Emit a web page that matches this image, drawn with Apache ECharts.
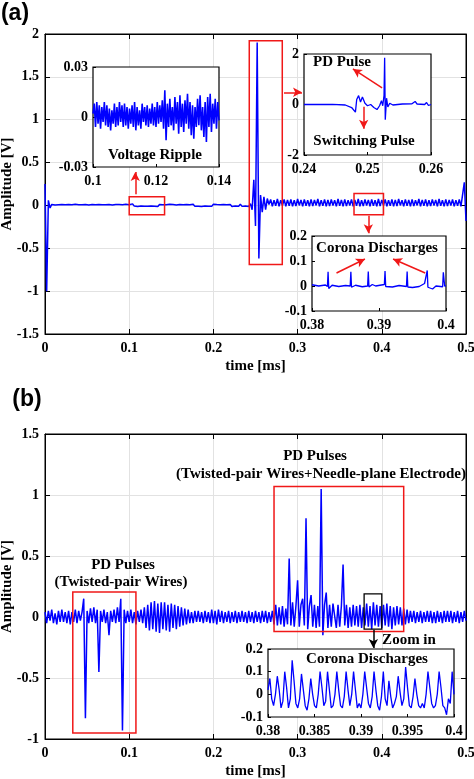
<!DOCTYPE html>
<html><head><meta charset="utf-8">
<script src="https://cdn.jsdelivr.net/npm/echarts@6/dist/echarts.min.js"></script>
<style>html,body{margin:0;padding:0;background:#fff}#c{width:474px;height:779px}</style>
</head><body><div id="c"></div>
<script>
// ---------- DATA ----------
// (a) main waveform, sampled every 0.002 ms from 0 to 0.5 ms
const aMainT0 = 0, aMainStep = 0.002;
const aMainAmp = [
0.25,-1.0,0.06,-0.03,
0.012,-0.008,0.006,-0.011,0.009,-0.006,0.011,-0.009,0.007,-0.012,
0.010,-0.007,0.008,-0.010,0.013,-0.006,0.009,-0.011,0.007,-0.008,
0.011,-0.009,0.006,-0.010,0.012,-0.007,0.008,-0.011,0.010,-0.006,
0.009,-0.012,0.007,-0.008,0.011,-0.010,0.006,-0.009,0.012,-0.007,
0.010,-0.011,0.008,-0.006,0.013,-0.009,0.007,-0.010,0.018,-0.008,
0.009,-0.012,0.011,-0.007,0.008,-0.010,0.006,-0.011,0.010,-0.008,
0.012,-0.009,0.007,-0.013,0.011,-0.006,0.009,-0.010,0.008,-0.012,
0.013,-0.007,0.010,-0.011,0.006,-0.009,0.012,-0.008,0.009,-0.013,
0.011,-0.010,0.007,-0.006,0.014,-0.011,0.008,-0.009,0.010,-0.012,
0.009,-0.007,0.012,-0.010,0.006,-0.011,0.013,-0.008,0.010,-0.009,
0.008,-0.012,0.011,-0.007,0.009,-0.010,0.012,-0.013,0.007,-0.008,
0.010,-0.009,0.015,-0.011,0.008,-0.006,0.011,-0.012,
0.02,-0.05,0.3,-0.24,1.9,-0.62,0.12,-0.08,0.1,-0.05,0.08,
0.01,0.07,-0.01,0.06,-0.005,0.075,-0.01,0.06,0.0,0.07,
-0.01,0.065,-0.005,0.07,-0.01,0.06,-0.008,0.075,0.0,0.065,
-0.01,0.07,-0.005,0.06,-0.01,0.07,-0.008,0.065,0.0,0.075,
-0.01,0.06,-0.005,0.07,-0.01,0.065,-0.008,0.07,0.0,0.06,
-0.01,0.075,-0.005,0.065,-0.01,0.07,-0.008,0.06,0.0,0.07,
-0.01,0.065,-0.005,0.075,-0.01,0.06,-0.008,0.07,0.0,0.065,
-0.01,0.07,-0.005,0.06,-0.01,0.075,-0.008,0.065,0.0,0.07,
-0.01,0.06,-0.005,0.07,-0.01,0.065,-0.008,0.075,0.0,0.06,
-0.01,0.07,-0.005,0.065,-0.01,0.07,-0.008,0.06,0.0,0.075,
-0.01,0.065,-0.005,0.07,-0.01,0.06,-0.008,0.07,0.0,0.065,
-0.01,0.075,-0.005,0.06,-0.01,0.07,-0.008,0.065,0.0,0.07,
-0.01,0.06,-0.005,0.07,-0.01,
0.0,0.27,-0.18
];
// (a) inset: voltage ripple, every 0.0004 ms from 0.1 to 0.14 ms
const rippleT0 = 0.1, rippleStep = 0.0004;
const rippleAmp = [
0.002,0.008,-0.006,0.009,-0.004,0.007,-0.007,0.006,-0.003,0.009,
-0.005,0.007,-0.006,0.005,-0.008,0.004,-0.004,0.008,-0.006,0.006,
-0.005,0.009,-0.003,0.007,-0.006,0.008,-0.005,0.006,-0.007,0.005,
-0.004,0.007,-0.006,0.009,-0.008,0.006,-0.005,0.004,-0.007,0.008,
-0.003,0.006,-0.005,0.007,-0.006,0.005,-0.004,0.008,-0.005,0.006,
-0.006,0.009,-0.004,0.007,-0.003,0.010,-0.007,0.016,-0.014,0.008,
-0.006,0.011,-0.005,0.006,-0.008,0.012,-0.004,0.009,-0.010,0.013,
-0.006,0.008,-0.009,0.010,-0.004,0.014,-0.007,0.009,-0.011,0.007,
-0.013,0.006,-0.006,0.011,-0.005,0.013,-0.008,0.006,-0.012,0.009,
-0.015,0.012,-0.006,0.014,-0.009,0.008,-0.004,0.011,-0.007,0.009,
-0.002
];
// (a) inset: PD pulse / switching pulse
const pdTime = [0.24,0.2445,0.2465,0.2475,0.2481,0.2483,0.2486,0.2489,0.2492,0.2496,0.25,0.2505,0.251,0.2515,0.2519,0.2522,0.2524,0.2526,0.2527,0.2528,0.253,0.2532,0.2535,0.254,0.2555,0.257,0.2575,0.2578,0.259,0.2593,0.2596,0.26];
const pdAmp  = [0,0.005,-0.02,-0.12,-0.3,0.2,0.35,0.1,0.3,0.05,-0.05,0.0,-0.12,-0.2,-0.05,0.15,-0.05,0.35,1.85,-0.6,0.25,-0.1,0.05,-0.02,0.02,0.03,0.12,0.02,0.0,0.08,-0.04,0];
// (a) inset: corona discharges
const coronaATime = [0.38,0.381,0.382,0.3823,0.3824,0.3825,0.383,0.384,0.385,0.3857,0.3858,0.3859,0.3865,0.3875,0.3883,0.3884,0.3885,0.389,0.3895,0.3908,0.3909,0.391,0.392,0.393,0.3941,0.3942,0.3943,0.395,0.396,0.3968,0.3972,0.3973,0.398,0.3985,0.3995,0.3996,0.3998,0.4];
const coronaAAmp  = [0.005,0.0,0.004,-0.002,0.057,-0.01,0.003,-0.002,0.002,0.0,0.057,-0.005,0.003,-0.003,0.0,0.058,-0.004,0.006,0.0,0.006,0.06,-0.002,-0.004,0.002,-0.002,0.058,-0.004,-0.006,-0.002,0.01,0.062,-0.005,-0.012,0.0,-0.003,0.055,0.0,0.0];
// (b) main waveform, every 0.002 ms from 0 to 0.5 ms
const bMainT0 = 0, bMainStep = 0.002;
const bMainAmp = [
0.04,-0.05,0.05,-0.03,0.06,-0.05,0.03,-0.06,0.05,-0.04,
0.06,-0.04,0.04,-0.05,0.05,-0.06,0.04,-0.04,0.06,-0.05,
0.05,-0.03,0.04,0.15,-0.83,0.05,-0.05,0.07,-0.04,0.08,
-0.05,0.06,-0.45,0.05,-0.04,0.06,-0.05,0.04,-0.15,0.05,
-0.04,0.06,-0.05,0.08,-0.04,0.15,-0.93,0.06,-0.05,0.05,
-0.04,0.06,-0.05,0.04,-0.06,0.05,-0.04,0.06,-0.05,0.08,
-0.09,0.1,-0.11,0.12,-0.1,0.13,-0.12,0.11,-0.13,0.12,
-0.1,0.12,-0.11,0.1,-0.12,0.11,-0.09,0.1,-0.1,0.09,
-0.08,0.08,-0.07,0.07,-0.06,0.06,-0.05,0.04,-0.05,0.05,
-0.04,0.05,-0.04,0.04,-0.05,0.05,-0.04,0.04,-0.05,0.06,
-0.05,0.05,-0.06,0.06,-0.04,0.05,-0.05,0.04,-0.04,0.05,
-0.05,0.04,-0.04,0.05,-0.05,0.04,-0.04,0.05,-0.04,0.04,
-0.05,0.05,-0.04,0.04,-0.05,0.05,-0.04,0.04,-0.05,0.05,
-0.04,0.05,-0.05,0.04,-0.04,0.05,-0.06,0.1,-0.07,0.08,
-0.06,0.09,-0.08,0.07,-0.06,0.48,-0.07,0.12,-0.08,0.09,
0.3,-0.08,0.1,0.15,-0.07,0.81,-0.1,0.09,0.18,-0.08,
0.1,-0.09,0.09,-0.08,1.05,-0.15,0.1,0.2,-0.09,0.1,
-0.08,0.11,0.12,-0.09,0.1,-0.08,0.09,0.43,-0.07,0.1,
-0.09,0.08,-0.08,0.1,-0.07,0.09,-0.08,0.1,-0.09,0.08,
-0.07,0.11,-0.08,0.09,-0.1,0.12,-0.07,0.1,-0.08,0.09,
-0.09,0.1,-0.07,0.11,-0.08,0.09,-0.1,0.08,-0.07,0.09,
-0.06,0.08,-0.07,0.07,-0.06,0.06,-0.05,0.05,-0.04,0.05,
-0.05,0.04,-0.04,0.05,-0.05,0.04,-0.04,0.05,-0.04,0.05,
-0.05,0.04,-0.05,0.05,-0.04,0.04,-0.05,0.05,-0.04,0.05,
-0.04,0.05,-0.05,0.04,-0.04,0.05,-0.05,0.04,-0.04,0.05,
-0.03
];
// (b) inset: corona discharges, every 0.0002 ms from 0.38 to 0.4 ms
const coronaBT0 = 0.38, coronaBStep = 0.0002;
const coronaBAmp = [
0.02,0.07,-0.02,-0.05,0.0,0.08,0.02,-0.06,-0.03,0.1,
0.03,-0.06,-0.02,0.15,0.06,-0.04,-0.06,-0.02,0.09,0.02,
-0.05,-0.07,-0.02,0.07,0.0,-0.05,-0.06,0.0,0.1,0.03,
-0.05,-0.03,0.1,0.02,-0.06,-0.05,0.0,0.1,0.02,-0.05,
-0.06,-0.01,0.1,0.02,-0.05,0.0,0.1,0.02,-0.06,-0.04,
-0.06,0.0,0.1,0.03,-0.04,-0.06,-0.01,0.1,0.02,-0.05,
-0.07,-0.01,0.1,-0.02,-0.05,0.06,-0.01,-0.06,-0.04,-0.01,
0.08,0.01,-0.05,-0.02,0.12,0.03,-0.05,-0.06,-0.01,0.07,
0.0,-0.05,-0.06,-0.04,-0.06,0.0,0.1,0.03,-0.04,-0.06,
-0.05,0.0,0.1,0.03,-0.05,-0.06,-0.09,-0.02,-0.04,0.1,
0.0
];
// tick values
const rippleXTicks = [0.1,0.12,0.14], rippleYTicks = [-0.03,0,0.03];
const pdXTicks = [0.24,0.25,0.26], pdYTicks = [-2,0,2];
const corAXTicks = [0.38,0.39,0.4], corYTicks = [-0.1,0,0.1,0.2];
const corBXTicks = [0.38,0.385,0.39,0.395,0.4];

// ---------- BUILD ----------
function seq(t0, step, vals){ return vals.map((v,i)=>[+(t0+i*step).toFixed(6), v]); }
function pairs(ts, vs){ return ts.map((t,i)=>[t, vs[i]]); }

const SERIF = 'Liberation Serif';
const lbl = {color:'#000', fontFamily:SERIF, fontWeight:'bold', fontSize:14};
const BLUE = '#0000ff', RED = '#f01818';

function mainX(grid, top){
  return {type:'value', gridIndex:grid, min:0, max:0.5, interval:0.1, position: top?'top':'bottom',
    axisLine:{show:true, onZero:false, lineStyle:{color:'#000'}},
    axisTick:{show:true, inside:true, length:5, lineStyle:{color:'#000'}},
    axisLabel: top?{show:false}:Object.assign({margin:7}, lbl),
    splitLine:{show:!top, lineStyle:{color:'#e2e2e2', width:1}},
    name: top?'':'time [ms]', nameLocation:'middle', nameGap:25, nameMoveOverlap:false,
    nameTextStyle:{color:'#000', fontFamily:SERIF, fontWeight:'bold', fontSize:15}};
}
function mainY(grid, min, max, right){
  return {type:'value', gridIndex:grid, min:min, max:max, interval:0.5, position: right?'right':'left',
    axisLine:{show:true, onZero:false, lineStyle:{color:'#000'}},
    axisTick:{show:true, inside:true, length:5, lineStyle:{color:'#000'}},
    axisLabel: right?{show:false}:Object.assign({margin:6}, lbl),
    splitLine:{show:!right, lineStyle:{color:'#e2e2e2', width:1}},
    name: right?'':'Amplitude [V]', nameLocation:'middle', nameGap:30, nameMoveOverlap:false,
    nameTextStyle:{color:'#000', fontFamily:SERIF, fontWeight:'bold', fontSize:15}};
}
function insetX(grid, min, max, ticks){
  return {type:'value', gridIndex:grid, min:min, max:max, z:11,
    axisLine:{show:false, onZero:false},
    axisTick:{show:true, inside:true, length:3, customValues:ticks, lineStyle:{color:'#000'}},
    axisLabel:Object.assign({margin:7, customValues:ticks}, lbl),
    splitLine:{show:false}};
}
function insetY(grid, min, max, ticks){
  return {type:'value', gridIndex:grid, min:min, max:max, z:11,
    axisLine:{show:false, onZero:false},
    axisTick:{show:true, inside:true, length:3, customValues:ticks, lineStyle:{color:'#000'}},
    axisLabel:Object.assign({margin:5, customValues:ticks}, lbl),
    splitLine:{show:false}};
}
const mainGrid = (l,t,w,h)=>({left:l, top:t, width:w, height:h, show:true, borderColor:'#000', borderWidth:1, outerBoundsMode:'none', containLabel:false});
const insetGrid = (l,t,w,h)=>({left:l, top:t, width:w, height:h, show:true, backgroundColor:'#fff', borderColor:'#000', borderWidth:1.2, z:10, outerBoundsMode:'none', containLabel:false});
const redBox = {color:'rgba(0,0,0,0)', borderColor:RED, borderWidth:1.5};
function arrow(x1,y1,x2,y2){ return [{coord:[x1,y1]},{coord:[x2,y2]}]; }
const mlBase = (z)=>({silent:true, symbol:['none','arrow'], symbolSize:[7,9], z:z, label:{show:false},
  lineStyle:{color:RED, width:1.5, type:'solid'}, emphasis:{disabled:true}});

function txt(x, y, s, size, family){
  return {type:'text', x:x, y:y, z:30, style:{text:s, fill:'#000', font:'bold '+(size||15)+'px "'+(family||SERIF)+'"', align:'center', verticalAlign:'middle'}};
}

const option = {
  animation:false,
  grid:[
    mainGrid(45,34,421,300),
    mainGrid(45,434,421,305),
    insetGrid(93,67,126,100),
    insetGrid(304,54,127,101),
    insetGrid(312,236,134,75),
    insetGrid(268,649,186,68)
  ],
  xAxis:[
    mainX(0,false), mainX(0,true), mainX(1,false), mainX(1,true),
    insetX(2,0.1,0.14,rippleXTicks), insetX(3,0.24,0.26,pdXTicks),
    insetX(4,0.38,0.4,corAXTicks), insetX(5,0.38,0.4,corBXTicks)
  ],
  yAxis:[
    mainY(0,-1.5,2,false), mainY(0,-1.5,2,true), mainY(1,-1,1.5,false), mainY(1,-1,1.5,true),
    insetY(2,-0.03,0.03,rippleYTicks), insetY(3,-2,2,pdYTicks),
    insetY(4,-0.1,0.2,corYTicks), insetY(5,-0.1,0.2,corYTicks)
  ],
  series:[
    {type:'line', xAxisIndex:0, yAxisIndex:0, data:seq(aMainT0,aMainStep,aMainAmp), showSymbol:false, z:2,
     lineStyle:{color:BLUE, width:1.5}, silent:true,
     markArea:{silent:true, z:4, itemStyle:redBox, data:[
       [{coord:[0.1,0.1]},{coord:[0.142,-0.11]}],
       [{coord:[0.2426,1.92]},{coord:[0.2818,-0.69]}],
       [{coord:[0.367,0.14]},{coord:[0.402,-0.11]}]
     ]},
     markLine:Object.assign(mlBase(5),{data:[
       arrow(0.1072,0.13,0.1072,0.39),
       arrow(0.2838,1.32,0.3052,1.32),
       arrow(0.384,-0.12,0.384,-0.326)
     ]})},
    {type:'line', xAxisIndex:2, yAxisIndex:2, data:seq(bMainT0,bMainStep,bMainAmp), showSymbol:false, z:2,
     lineStyle:{color:BLUE, width:1.5}, silent:true,
     markArea:{silent:true, z:4, itemStyle:redBox, data:[
       [{coord:[0.033,0.205]},{coord:[0.108,-0.95]}],
       [{coord:[0.272,1.07]},{coord:[0.426,-0.118]}],
       [{coord:[0.379,0.19], itemStyle:{color:'rgba(0,0,0,0)', borderColor:'#000', borderWidth:1.3}},{coord:[0.4,-0.1]}]
     ]},
     markLine:Object.assign(mlBase(5),{lineStyle:{color:'#000', width:1.5, type:'solid'}, data:[
       arrow(0.39,-0.104,0.39,-0.254)
     ]})},
    {type:'line', xAxisIndex:4, yAxisIndex:4, data:seq(rippleT0,rippleStep,rippleAmp), showSymbol:false, z:12,
     lineStyle:{color:BLUE, width:1.6}, silent:true},
    {type:'line', xAxisIndex:5, yAxisIndex:5, data:pairs(pdTime,pdAmp), showSymbol:false, z:12,
     lineStyle:{color:BLUE, width:1.3}, silent:true,
     markLine:Object.assign(mlBase(13),{data:[
       arrow(0.2523,0.66,0.2477,1.41),
       arrow(0.2494,-0.09,0.2494,-0.96)
     ]})},
    {type:'line', xAxisIndex:6, yAxisIndex:6, data:pairs(coronaATime,coronaAAmp), showSymbol:false, z:12,
     lineStyle:{color:BLUE, width:1.3}, silent:true,
     markLine:Object.assign(mlBase(13),{data:[
       arrow(0.38366,0.052,0.3879,0.108),
       arrow(0.3969,0.052,0.3921,0.108)
     ]})},
    {type:'line', xAxisIndex:7, yAxisIndex:7, data:seq(coronaBT0,coronaBStep,coronaBAmp), showSymbol:false, z:12,
     lineStyle:{color:BLUE, width:1.3}, silent:true}
  ],
  graphic:[
    txt(15, 14, '(a)', 23, 'Liberation Sans'),
    txt(27, 400, '(b)', 23, 'Liberation Sans'),
    txt(155, 155, 'Voltage Ripple'),
    txt(342, 62, 'PD Pulse'),
    txt(364, 141, 'Switching Pulse'),
    txt(377, 248, 'Corona Discharges'),
    txt(123, 565, 'PD Pulses'),
    txt(121, 582, '(Twisted-pair Wires)'),
    txt(315, 456, 'PD Pulses'),
    txt(321, 474, '(Twisted-pair Wires+Needle-plane Electrode)'),
    txt(409, 640, 'Zoom in'),
    txt(367, 659, 'Corona Discharges')
  ]
};
const chart = echarts.init(document.getElementById('c'), null, {renderer:'canvas'});
chart.setOption(option);
</script></body></html>
